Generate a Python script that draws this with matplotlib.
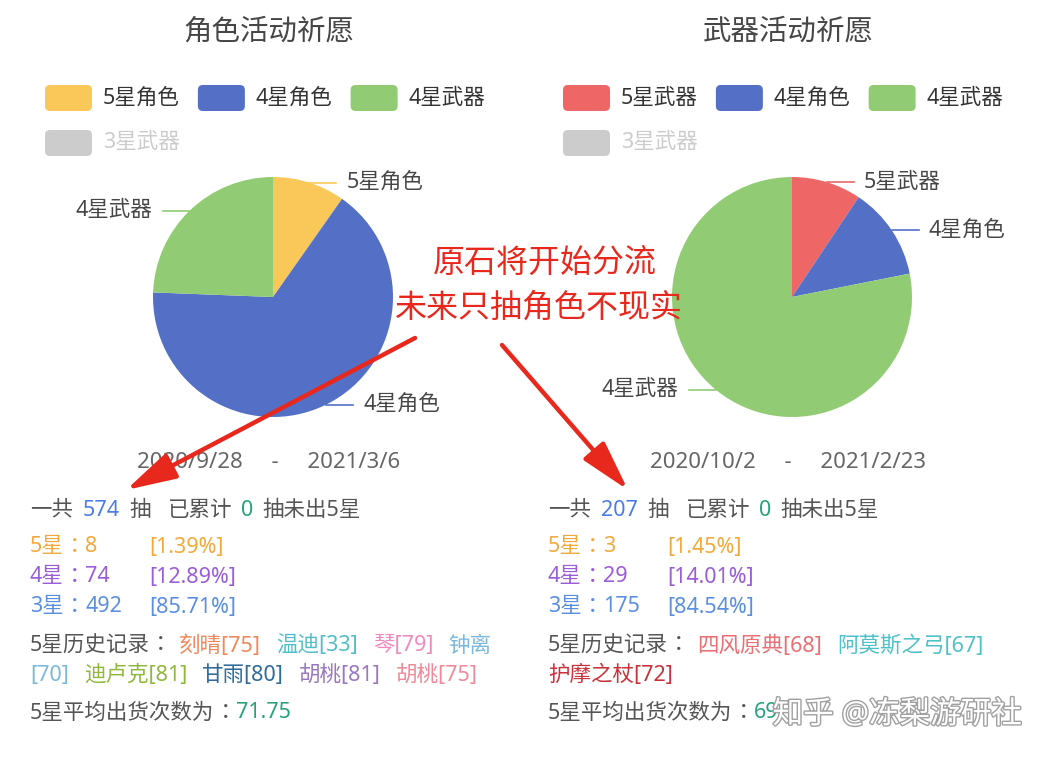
import numpy as np
import matplotlib
matplotlib.use("Agg")
import matplotlib.pyplot as plt
from matplotlib.patches import FancyBboxPatch, FancyArrowPatch
import matplotlib.patheffects as pe

# Latin glyphs from Noto Sans (wider digits), CJK from Noto Sans CJK
plt.rcParams['font.family'] = ['Noto Sans', 'Noto Sans CJK SC', 'DejaVu Sans']
TC = ['Noto Sans', 'Noto Sans CJK TC', 'DejaVu Sans']   # centred full-width colon

# ---- data ----
pie_titles = ['角色活动祈愿', '武器活动祈愿']
legend_names = [['5星角色', '4星角色', '4星武器', '3星武器'],
                ['5星武器', '4星角色', '4星武器', '3星武器']]
legend_colors = [['#f9c858', '#5470c6', '#91cc75', '#cccccc'],
                 ['#ee6666', '#5470c6', '#91cc75', '#cccccc']]
left_values = [8, 54, 20]      # 3星武器 hidden in legend
right_values = [3, 4, 25]
date_ranges = [('2020/9/28', '2021/3/6'), ('2020/10/2', '2021/2/23')]
totals = [574, 207]
star_counts = [[8, 74, 492], [3, 29, 175]]
char_history = [('刻晴', 75), ('温迪', 33), ('琴', 79), ('钟离', 70),
                ('迪卢克', 81), ('甘雨', 80), ('胡桃', 81), ('胡桃', 75)]
char_hist_colors = ['#f0885a', '#52bfc8', '#ee8ac0', '#7ab8dc',
                    '#8fb83c', '#2f6a9a', '#9a78c0', '#ef8a98']
weapon_history = [('四风原典', 68), ('阿莫斯之弓', 67), ('护摩之杖', 72)]
weapon_hist_colors = ['#ea6f74', '#4fc0c8', '#c9323a']

W, H = 1059, 761
fig = plt.figure(figsize=(W / 100, H / 100), dpi=100)
fig.patch.set_facecolor('white')
renderer = fig.canvas.get_renderer()

GREY = '#555555'
star_colors = ['#f2a93b', '#9b5cd8', '#5a8fe0']


def pie_panel(cx, cy, values, names, colors):
    R = 120.0
    half = 260.0
    ax = fig.add_axes([(cx - half) / W, (H - cy - half) / H, 2 * half / W, 2 * half / H])
    lim = half / R
    wedges, _ = ax.pie(values, colors=colors, startangle=90, counterclock=False,
                       radius=1, wedgeprops=dict(linewidth=0))
    ax.set_xlim(-lim, lim)
    ax.set_ylim(-lim, lim)
    ax.axis('off')
    for w, name, c in zip(wedges, names, colors):
        th = np.deg2rad((w.theta1 + w.theta2) / 2)
        x, y = np.cos(th), np.sin(th)
        s = 1 if x >= 0 else -1
        ax.plot([x, x + s * 0.225], [y, y], color=c, lw=1.2, clip_on=False)
        ax.text(x + s * 0.31, y, name, ha='left' if s > 0 else 'right', va='center',
                fontsize=15.5, color='#464646')
    return ax


pie_panel(273, 297, left_values, legend_names[0][:3], legend_colors[0][:3])
pie_panel(792, 297, right_values, legend_names[1][:3], legend_colors[1][:3])

ax0 = fig.add_axes([0, 0, 1, 1])
ax0.set_xlim(0, W)
ax0.set_ylim(H, 0)
ax0.axis('off')
ax0.set_zorder(5)


def put(x, y, text, color, size, fam=None):
    kw = {'family': fam} if fam else {}
    t = ax0.text(x, y, text, color=color, fontsize=size, va='center', ha='left', **kw)
    return t, t.get_window_extent(renderer).width


def rich(x0, y, segs, size=15.5, limit=None, line_h=29):
    # segs: (text, color, gap after); '：' drawn with the TC face.
    # lines may only break after a CJK character, like the browser does
    x = x0
    for text, color, g in segs:
        if '：' in text:
            head = text.rstrip('：')
            _, w = put(x, y, head, color, size)
            _, w2 = put(x + w, y, '：', color, size, TC)
            x += w + w2 + g
            continue
        while text:
            t, w = put(x, y, text, color, size)
            if limit is None or x + w <= limit:
                x += w + g
                break
            t.remove()
            n = len(text) - 1
            while n > 0:
                if ord(text[n - 1]) > 0x2E80:
                    t, w = put(x, y, text[:n], color, size)
                    if x + w <= limit:
                        break
                    t.remove()
                n -= 1
            text = text[n:]
            x = x0
            y += line_h
    return y


panels = [(30, 269, 45), (548, 788, 563)]
for i, (tx, cx, lx) in enumerate(panels):
    ax0.text(cx, 32, pie_titles[i], ha='center', va='center', fontsize=20.5, color='#464646')

    # legend
    x, y = lx, 98
    for k, (name, col) in enumerate(zip(legend_names[i], legend_colors[i])):
        if k == 3:
            x, y = lx, 143
        ax0.add_patch(FancyBboxPatch((x, y - 13), 47, 26, boxstyle='round,pad=0,rounding_size=5',
                                     facecolor=col, edgecolor='none'))
        t = ax0.text(x + 58, y, name, va='center', ha='left', fontsize=15.5,
                     color='#cccccc' if k == 3 else '#333333')
        x = x + 58 + t.get_window_extent(renderer).width + 18

    d0, d1 = date_ranges[i]
    ax0.text(cx, 463, f'{d0}     -     {d1}', ha='center', va='center', fontsize=16, color='#666666')

    rich(tx, 510, [('一共', GREY, 10), (str(totals[i]), '#4b7be5', 9), ('抽', GREY, 17),
                   ('已累计', GREY, 9), ('0', '#27a27a', 9), ('抽未出5星', GREY, 0)])
    tot = sum(star_counts[i])
    for j, cnt in enumerate(star_counts[i]):
        yy = 547 + 30 * j
        rich(tx, yy, [(f'{5 - j}星：', star_colors[j], 0), (str(cnt), star_colors[j], 0)])
        ax0.text(tx + 119, yy, f'[{cnt / tot * 100:.2f}%]', color=star_colors[j],
                 fontsize=15.5, va='center')

    hist = char_history if i == 0 else weapon_history
    hcol = char_hist_colors if i == 0 else weapon_hist_colors
    segs = [('5星历史记录：', GREY, 8)] + [(f'{n}[{v}]', c, 15) for (n, v), c in zip(hist, hcol)]
    rich(tx, 646, segs, limit=tx + 465)
    avg = np.mean([v for _, v in hist])
    avg_s = f'{avg:.2f}'.rstrip('0').rstrip('.')
    rich(tx, 713, [('5星平均出货次数为：', GREY, 0), (avg_s, '#27a27a', 0)])

# annotation
ax0.text(545, 263, '原石将开始分流', ha='center', va='center', fontsize=23, color='#e8281c', zorder=10)
ax0.text(539, 308, '未来只抽角色不现实', ha='center', va='center', fontsize=23, color='#e8281c', zorder=10)
for a, b in [((415, 338), (126, 490)), ((502, 345), (628, 490))]:
    ax0.add_patch(FancyArrowPatch(a, b, arrowstyle='-|>,head_length=1.4,head_width=0.38',
                                  mutation_scale=22, color='#e8281c', lw=3.2,
                                  shrinkA=0, shrinkB=0, zorder=10))

# site watermark, drawn over the last value as in the screenshot
ax0.text(897, 715, '知乎 @冻梨游研社', ha='center', va='center', fontsize=22, color='white', zorder=12,
         path_effects=[pe.withStroke(linewidth=2, foreground='#a0a0a0')])

fig.savefig('out.png', dpi=100)
